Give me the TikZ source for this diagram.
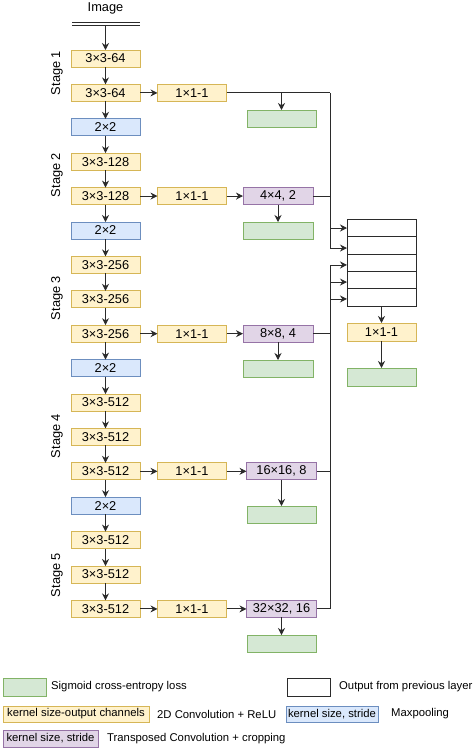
\documentclass[tikz,border=0pt]{standalone}
\usepackage{fontspec}
\setmainfont{Liberation Sans}
\usetikzlibrary{arrows.meta}
\definecolor{lc}{HTML}{2B2B2B}
\definecolor{yf}{HTML}{FFF2CC}\definecolor{yd}{HTML}{D6B656}
\definecolor{bf}{HTML}{DAE8FC}\definecolor{bd}{HTML}{6C8EBF}
\definecolor{pf}{HTML}{E1D5E7}\definecolor{pd}{HTML}{9673A6}
\definecolor{gf}{HTML}{D5E8D4}\definecolor{gd}{HTML}{82B366}
\begin{document}
\begin{tikzpicture}[x=1pt,y=-1pt,
  base/.style={draw, line width=0.9pt, inner sep=0pt, outer sep=0pt, minimum width=69pt, minimum height=17pt, font=\fontsize{12.8}{14}\selectfont},
  conv/.style={base, fill=yf, draw=yd},
  pool/.style={base, fill=bf, draw=bd},
  tconv/.style={base, fill=pf, draw=pd, minimum width=70pt},
  loss/.style={base, fill=gf, draw=gd},
  cell/.style={base, fill=white, draw=lc, minimum height=17.34pt},
  conn/.style={draw=lc, line width=0.9pt},
  arr/.style={conn, -{Stealth[length=7pt,width=7pt]}},
  stg/.style={rotate=90, font=\fontsize{12.8}{14}\selectfont},
  leg/.style={font=\fontsize{11.3}{13}\selectfont, anchor=west, inner sep=0pt},
  lbox/.style={draw, line width=0.9pt, inner sep=0pt, minimum height=17pt, font=\fontsize{11.3}{13}\selectfont}
]
\useasboundingbox (0,0) rectangle (474,750);

% Input
\node[font=\fontsize{12.8}{14}\selectfont] (img) at (105.5,8) {Image};
\draw[lc, line width=0.9pt] (72,22.5) -- (140,22.5) (72,25.5) -- (140,25.5);
\coordinate (imgin) at (105.5,25.5);

% Main column
\def\ry#1{58.5+34.4*#1}
\node[conv] (r0) at (105.5,{\ry{0}}) {3×3-64};
\node[conv] (r1) at (105.5,{\ry{1}}) {3×3-64};
\node[pool] (r2) at (105.5,{\ry{2}}) {2×2};
\node[conv] (r3) at (105.5,{\ry{3}}) {3×3-128};
\node[conv] (r4) at (105.5,{\ry{4}}) {3×3-128};
\node[pool] (r5) at (105.5,{\ry{5}}) {2×2};
\node[conv] (r6) at (105.5,{\ry{6}}) {3×3-256};
\node[conv] (r7) at (105.5,{\ry{7}}) {3×3-256};
\node[conv] (r8) at (105.5,{\ry{8}}) {3×3-256};
\node[pool] (r9) at (105.5,{\ry{9}}) {2×2};
\node[conv] (r10) at (105.5,{\ry{10}}) {3×3-512};
\node[conv] (r11) at (105.5,{\ry{11}}) {3×3-512};
\node[conv] (r12) at (105.5,{\ry{12}}) {3×3-512};
\node[pool] (r13) at (105.5,{\ry{13}}) {2×2};
\node[conv] (r14) at (105.5,{\ry{14}}) {3×3-512};
\node[conv] (r15) at (105.5,{\ry{15}}) {3×3-512};
\node[conv] (r16) at (105.5,{\ry{16}}) {3×3-512};

\draw[arr] (imgin) -- (r0.north);
\foreach \a/\b in {0/1,1/2,2/3,3/4,4/5,5/6,6/7,7/8,8/9,9/10,10/11,11/12,12/13,13/14,14/15,15/16}
  \draw[arr] (r\a.south) -- (r\b.north);

% Stage labels
\node[stg] (st1) at (57,73) {Stage 1};
\node[stg] (st2) at (57,175) {Stage 2};
\node[stg] (st3) at (57,298) {Stage 3};
\node[stg] (st4) at (57,436) {Stage 4};
\node[stg] (st5) at (57,575) {Stage 5};

% Side branches
\node[conv] (a1) at (192,{\ry{1}}) {1×1-1};
\node[conv] (a2) at (192,{\ry{4}}) {1×1-1};
\node[conv] (a3) at (192,{\ry{8}}) {1×1-1};
\node[conv] (a4) at (192,{\ry{12}}) {1×1-1};
\node[conv] (a5) at (192,{\ry{16}}) {1×1-1};
\draw[arr] (r1.east) -- (a1.west);
\draw[arr] (r4.east) -- (a2.west);
\draw[arr] (r8.east) -- (a3.west);
\draw[arr] (r12.east) -- (a4.west);
\draw[arr] (r16.east) -- (a5.west);

\node[tconv] (p2) at (278,{\ry{4}}) {4×4, 2};
\node[tconv] (p3) at (278,{\ry{8}}) {8×8, 4};
\node[tconv] (p4) at (281.5,{\ry{12}}) {16×16, 8};
\node[tconv] (p5) at (281.5,{\ry{16}}) {32×32, 16};
\draw[arr] (a2.east) -- (p2.west);
\draw[arr] (a3.east) -- (p3.west);
\draw[arr] (a4.east) -- (p4.west);
\draw[arr] (a5.east) -- (p5.west);

\node[loss] (g1) at (281.5,118.5) {};
\node[loss, minimum width=70pt] (g2) at (278,230.5) {};
\node[loss, minimum width=70pt] (g3) at (278,368.5) {};
\node[loss] (g4) at (281.5,514.5) {};
\node[loss] (g5) at (281.5,643.5) {};
\draw[arr] (g1.north |- a1.east) -- (g1.north);
\draw[arr] (p2.south) -- (g2.north);
\draw[arr] (p3.south) -- (g3.north);
\draw[arr] (p4.south) -- (g4.north);
\draw[arr] (p5.south) -- (g5.north);

% Fusion stack
\node[cell] (c1) at (381.5,228) {};
\node[cell, anchor=north] (c2) at (c1.south) {};
\node[cell, anchor=north] (c3) at (c2.south) {};
\node[cell, anchor=north] (c4) at (c3.south) {};
\node[cell, anchor=north] (c5) at (c4.south) {};
\node[conv, minimum height=18pt] (f1) at (381.5,332) {1×1-1};
\node[loss, minimum height=18pt] (gf) at (381.5,377) {};
\draw[arr] (c5.south) -- (f1.north);
\draw[arr] (f1.south) -- (gf.north);

\coordinate (vx) at (330,0);
\draw[conn] (a1.east) -- (vx |- a1.east);
\draw[arr] (vx |- a1.east) |- ([yshift=-2.7pt]c2.west);
\draw[arr] (p2.east) -| (vx |- c1.west) -- (c1.west);
\draw[conn] (p3.east) -- (vx |- p3.east);
\draw[conn] (p4.east) -- (vx |- p4.east);
\draw[conn] (p5.east) -| ([yshift=-2.3pt]vx |- c3.west);
\draw[arr] ([yshift=-2.3pt]vx |- c3.west) -- ([yshift=-2.3pt]c3.west);
\draw[arr] ([yshift=-2pt]vx |- c4.west) -- ([yshift=-2pt]c4.west);
\draw[arr] ([yshift=-1.6pt]vx |- c5.west) -- ([yshift=-1.6pt]c5.west);

% Legend
\node[lbox, fill=gf, draw=gd, minimum width=43pt, minimum height=18pt] (lg) at (24.5,687) {};
\node[leg] (lgt) at (51,687) {Sigmoid cross-entropy loss};
\node[lbox, fill=white, draw=lc, minimum width=43pt, minimum height=18pt] (lw) at (308.5,687) {};
\node[leg] (lwt) at (339,687) {Output from previous layer};
\node[lbox, fill=yf, draw=yd, minimum width=146pt, minimum height=16pt] (ly) at (76,714) {kernel size-output channels};
\node[leg] (lyt) at (157,714) {2D Convolution + ReLU};
\node[lbox, fill=bf, draw=bd, minimum width=92pt, minimum height=16pt] (lb) at (332,714) {kernel size, stride};
\node[leg] (lbt) at (391,714) {Maxpooling};
\node[lbox, fill=pf, draw=pd, minimum width=95pt, minimum height=17pt] (lp) at (50.5,738.5) {kernel size, stride};
\node[leg] (lpt) at (107,738.5) {Transposed Convolution + cropping};
\end{tikzpicture}
\end{document}
